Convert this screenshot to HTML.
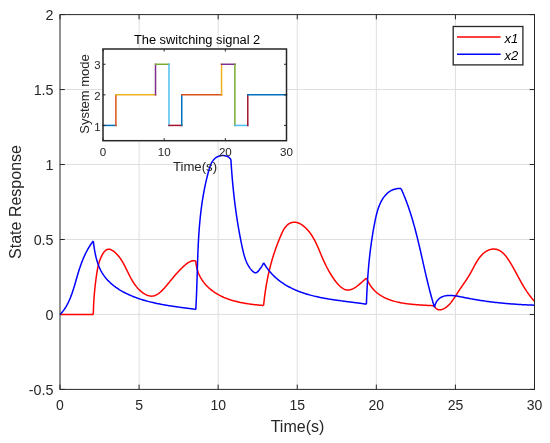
<!DOCTYPE html>
<html><head><meta charset="utf-8"><style>html,body{margin:0;padding:0;background:#fff;}svg{display:block;}</style></head><body>
<svg width="550" height="443" viewBox="0 0 550 443">
<rect x="0" y="0" width="550" height="443" fill="#ffffff"/>
<line x1="139.08" y1="14.60" x2="139.08" y2="389.40" stroke="#dfdfdf" stroke-width="1"/>
<line x1="218.17" y1="14.60" x2="218.17" y2="389.40" stroke="#dfdfdf" stroke-width="1"/>
<line x1="297.25" y1="14.60" x2="297.25" y2="389.40" stroke="#dfdfdf" stroke-width="1"/>
<line x1="376.33" y1="14.60" x2="376.33" y2="389.40" stroke="#dfdfdf" stroke-width="1"/>
<line x1="455.42" y1="14.60" x2="455.42" y2="389.40" stroke="#dfdfdf" stroke-width="1"/>
<line x1="60.00" y1="314.44" x2="534.50" y2="314.44" stroke="#dfdfdf" stroke-width="1"/>
<line x1="60.00" y1="239.48" x2="534.50" y2="239.48" stroke="#dfdfdf" stroke-width="1"/>
<line x1="60.00" y1="164.52" x2="534.50" y2="164.52" stroke="#dfdfdf" stroke-width="1"/>
<line x1="60.00" y1="89.56" x2="534.50" y2="89.56" stroke="#dfdfdf" stroke-width="1"/>
<line x1="60.00" y1="389.40" x2="60.00" y2="384.60" stroke="#262626" stroke-width="1"/>
<line x1="60.00" y1="14.60" x2="60.00" y2="19.40" stroke="#262626" stroke-width="1"/>
<line x1="139.08" y1="389.40" x2="139.08" y2="384.60" stroke="#262626" stroke-width="1"/>
<line x1="139.08" y1="14.60" x2="139.08" y2="19.40" stroke="#262626" stroke-width="1"/>
<line x1="218.17" y1="389.40" x2="218.17" y2="384.60" stroke="#262626" stroke-width="1"/>
<line x1="218.17" y1="14.60" x2="218.17" y2="19.40" stroke="#262626" stroke-width="1"/>
<line x1="297.25" y1="389.40" x2="297.25" y2="384.60" stroke="#262626" stroke-width="1"/>
<line x1="297.25" y1="14.60" x2="297.25" y2="19.40" stroke="#262626" stroke-width="1"/>
<line x1="376.33" y1="389.40" x2="376.33" y2="384.60" stroke="#262626" stroke-width="1"/>
<line x1="376.33" y1="14.60" x2="376.33" y2="19.40" stroke="#262626" stroke-width="1"/>
<line x1="455.42" y1="389.40" x2="455.42" y2="384.60" stroke="#262626" stroke-width="1"/>
<line x1="455.42" y1="14.60" x2="455.42" y2="19.40" stroke="#262626" stroke-width="1"/>
<line x1="534.50" y1="389.40" x2="534.50" y2="384.60" stroke="#262626" stroke-width="1"/>
<line x1="534.50" y1="14.60" x2="534.50" y2="19.40" stroke="#262626" stroke-width="1"/>
<line x1="60.00" y1="389.40" x2="64.80" y2="389.40" stroke="#262626" stroke-width="1"/>
<line x1="534.50" y1="389.40" x2="529.70" y2="389.40" stroke="#262626" stroke-width="1"/>
<line x1="60.00" y1="314.44" x2="64.80" y2="314.44" stroke="#262626" stroke-width="1"/>
<line x1="534.50" y1="314.44" x2="529.70" y2="314.44" stroke="#262626" stroke-width="1"/>
<line x1="60.00" y1="239.48" x2="64.80" y2="239.48" stroke="#262626" stroke-width="1"/>
<line x1="534.50" y1="239.48" x2="529.70" y2="239.48" stroke="#262626" stroke-width="1"/>
<line x1="60.00" y1="164.52" x2="64.80" y2="164.52" stroke="#262626" stroke-width="1"/>
<line x1="534.50" y1="164.52" x2="529.70" y2="164.52" stroke="#262626" stroke-width="1"/>
<line x1="60.00" y1="89.56" x2="64.80" y2="89.56" stroke="#262626" stroke-width="1"/>
<line x1="534.50" y1="89.56" x2="529.70" y2="89.56" stroke="#262626" stroke-width="1"/>
<line x1="60.00" y1="14.60" x2="64.80" y2="14.60" stroke="#262626" stroke-width="1"/>
<line x1="534.50" y1="14.60" x2="529.70" y2="14.60" stroke="#262626" stroke-width="1"/>
<path d="M60.00,314.45 L93.30,314.60 M93.30,314.60 L93.32,313.58 L93.34,312.56 L93.37,311.55 L93.40,310.53 L93.43,309.52 L93.47,308.51 L93.50,307.50 L93.55,306.49 L93.59,305.48 L93.64,304.47 L93.69,303.47 L93.75,302.46 L93.81,301.45 L93.87,300.45 L93.94,299.45 L94.00,298.45 L94.08,297.44 L94.15,296.44 L94.23,295.44 L94.31,294.44 L94.40,293.44 L94.48,292.45 L94.57,291.45 L94.67,290.45 L94.77,289.45 L94.87,288.46 L94.97,287.46 L95.08,286.46 L95.19,285.47 L95.30,284.47 L95.42,283.47 L95.54,282.48 L95.66,281.48 L95.79,280.49 L95.92,279.49 L96.05,278.49 L96.18,277.50 L96.32,276.50 L96.46,275.50 L96.61,274.51 L96.76,273.51 L96.91,272.51 L97.07,271.52 L97.24,270.52 L97.42,269.52 L97.61,268.52 L97.82,267.53 L98.03,266.53 L98.27,265.53 L98.52,264.54 L98.79,263.55 L99.08,262.55 L99.40,261.56 L99.73,260.57 L100.09,259.58 L100.48,258.59 L100.90,257.60 L101.35,256.61 L101.82,255.64 L102.33,254.69 L102.86,253.77 L103.43,252.90 L104.02,252.09 L104.63,251.36 L105.28,250.71 L105.95,250.16 L106.65,249.73 L107.38,249.41 L108.13,249.24 L108.91,249.21 L109.70,249.31 L110.51,249.53 L111.33,249.87 L112.15,250.30 L112.96,250.81 L113.78,251.39 L114.57,252.03 L115.35,252.72 L116.11,253.44 L116.84,254.18 L117.55,254.94 L118.23,255.73 L118.88,256.53 L119.52,257.35 L120.13,258.18 L120.72,259.03 L121.30,259.90 L121.86,260.77 L122.40,261.66 L122.92,262.55 L123.44,263.46 L123.94,264.37 L124.42,265.28 L124.90,266.20 L125.37,267.12 L125.83,268.04 L126.29,268.97 L126.74,269.89 L127.18,270.80 L127.63,271.72 L128.07,272.63 L128.51,273.53 L128.95,274.43 L129.40,275.33 L129.85,276.22 L130.31,277.11 L130.77,277.99 L131.25,278.86 L131.73,279.72 L132.23,280.58 L132.74,281.43 L133.26,282.28 L133.81,283.11 L134.37,283.94 L134.95,284.75 L135.55,285.56 L136.17,286.36 L136.82,287.14 L137.49,287.92 L138.19,288.68 L138.92,289.43 L139.67,290.17 L140.45,290.88 L141.24,291.56 L142.06,292.22 L142.89,292.84 L143.73,293.41 L144.59,293.95 L145.46,294.44 L146.34,294.87 L147.22,295.25 L148.11,295.57 L149.01,295.82 L149.90,296.00 L150.79,296.11 L151.67,296.14 L152.56,296.08 L153.43,295.94 L154.30,295.72 L155.15,295.42 L156.00,295.05 L156.84,294.61 L157.68,294.11 L158.50,293.56 L159.31,292.95 L160.12,292.29 L160.91,291.60 L161.70,290.87 L162.47,290.10 L163.23,289.31 L163.98,288.50 L164.73,287.68 L165.46,286.84 L166.17,286.00 L166.88,285.16 L167.58,284.32 L168.26,283.49 L168.93,282.68 L169.59,281.87 L170.24,281.08 L170.88,280.29 L171.52,279.52 L172.15,278.76 L172.78,278.00 L173.41,277.25 L174.03,276.51 L174.66,275.78 L175.28,275.05 L175.91,274.33 L176.54,273.61 L177.18,272.90 L177.82,272.19 L178.48,271.49 L179.14,270.78 L179.81,270.08 L180.49,269.39 L181.19,268.69 L181.90,267.99 L182.63,267.30 L183.37,266.60 L184.13,265.90 L184.91,265.21 L185.72,264.52 L186.54,263.85 L187.38,263.22 L188.24,262.64 L189.11,262.11 L190.01,261.65 L190.93,261.28 L191.87,260.99 L192.82,260.81 L193.80,260.74 L194.79,260.80 L195.80,261.00 M195.80,261.00 L195.87,262.09 L195.98,263.17 L196.11,264.23 L196.27,265.29 L196.45,266.32 L196.67,267.35 L196.91,268.36 L197.18,269.36 L197.47,270.34 L197.79,271.31 L198.13,272.27 L198.49,273.21 L198.88,274.14 L199.30,275.06 L199.73,275.96 L200.19,276.85 L200.67,277.72 L201.18,278.58 L201.70,279.42 L202.24,280.25 L202.80,281.07 L203.39,281.87 L203.99,282.65 L204.61,283.42 L205.25,284.18 L205.90,284.92 L206.58,285.65 L207.27,286.36 L207.97,287.06 L208.69,287.74 L209.43,288.40 L210.18,289.05 L210.95,289.69 L211.73,290.31 L212.52,290.91 L213.32,291.50 L214.14,292.07 L214.97,292.63 L215.81,293.17 L216.67,293.70 L217.53,294.21 L218.40,294.70 L219.28,295.18 L220.18,295.64 L221.08,296.09 L221.99,296.53 L222.91,296.95 L223.83,297.36 L224.77,297.75 L225.71,298.13 L226.66,298.50 L227.62,298.86 L228.58,299.20 L229.55,299.53 L230.52,299.85 L231.50,300.16 L232.49,300.45 L233.47,300.74 L234.47,301.01 L235.47,301.27 L236.47,301.53 L237.47,301.77 L238.48,302.00 L239.49,302.23 L240.50,302.44 L241.51,302.65 L242.53,302.85 L243.55,303.04 L244.56,303.22 L245.58,303.39 L246.60,303.56 L247.62,303.72 L248.64,303.87 L249.65,304.01 L250.67,304.15 L251.68,304.29 L252.69,304.41 L253.70,304.53 L254.71,304.65 L255.72,304.76 L256.72,304.87 L257.71,304.97 L258.71,305.07 L259.70,305.16 L260.68,305.25 L261.66,305.34 L262.63,305.42 L263.60,305.50 M263.60,305.50 L263.70,304.48 L263.81,303.46 L263.91,302.44 L264.03,301.43 L264.14,300.41 L264.26,299.40 L264.38,298.39 L264.50,297.39 L264.63,296.38 L264.76,295.38 L264.89,294.38 L265.03,293.39 L265.17,292.39 L265.31,291.39 L265.46,290.40 L265.61,289.41 L265.76,288.42 L265.92,287.44 L266.08,286.45 L266.25,285.47 L266.41,284.48 L266.59,283.50 L266.76,282.52 L266.94,281.55 L267.13,280.57 L267.32,279.59 L267.51,278.62 L267.70,277.65 L267.90,276.68 L268.11,275.71 L268.32,274.74 L268.53,273.77 L268.75,272.80 L268.97,271.83 L269.19,270.87 L269.42,269.90 L269.66,268.94 L269.89,267.98 L270.14,267.01 L270.38,266.05 L270.64,265.09 L270.89,264.13 L271.15,263.17 L271.42,262.21 L271.69,261.25 L271.97,260.29 L272.25,259.33 L272.53,258.38 L272.82,257.42 L273.11,256.46 L273.41,255.50 L273.72,254.54 L274.03,253.59 L274.34,252.63 L274.66,251.67 L274.99,250.71 L275.32,249.76 L275.65,248.80 L275.99,247.84 L276.34,246.88 L276.69,245.92 L277.05,244.96 L277.41,244.00 L277.78,243.04 L278.15,242.08 L278.53,241.12 L278.91,240.16 L279.30,239.20 L279.70,238.23 L280.10,237.27 L280.51,236.31 L280.92,235.34 L281.34,234.38 L281.77,233.41 L282.21,232.46 L282.67,231.52 L283.14,230.60 L283.64,229.70 L284.16,228.83 L284.71,227.99 L285.29,227.19 L285.91,226.43 L286.56,225.71 L287.25,225.05 L287.99,224.44 L288.77,223.89 L289.59,223.41 L290.45,222.99 L291.32,222.66 L292.22,222.40 L293.13,222.24 L294.04,222.17 L294.95,222.19 L295.86,222.29 L296.76,222.47 L297.66,222.73 L298.55,223.06 L299.43,223.45 L300.30,223.90 L301.16,224.41 L302.01,224.96 L302.84,225.56 L303.65,226.19 L304.45,226.86 L305.22,227.55 L305.97,228.27 L306.69,229.00 L307.40,229.74 L308.08,230.51 L308.74,231.29 L309.37,232.08 L309.99,232.88 L310.59,233.70 L311.17,234.53 L311.74,235.37 L312.28,236.22 L312.81,237.08 L313.33,237.96 L313.83,238.84 L314.32,239.72 L314.79,240.62 L315.26,241.52 L315.71,242.43 L316.15,243.34 L316.59,244.26 L317.01,245.19 L317.43,246.11 L317.84,247.04 L318.25,247.97 L318.65,248.91 L319.04,249.84 L319.43,250.77 L319.82,251.71 L320.21,252.64 L320.60,253.57 L320.99,254.50 L321.38,255.43 L321.77,256.35 L322.16,257.27 L322.55,258.18 L322.95,259.09 L323.35,260.00 L323.76,260.90 L324.17,261.80 L324.59,262.69 L325.01,263.58 L325.44,264.47 L325.87,265.36 L326.32,266.24 L326.77,267.13 L327.22,268.01 L327.69,268.88 L328.17,269.76 L328.65,270.63 L329.15,271.51 L329.65,272.38 L330.17,273.25 L330.69,274.12 L331.23,274.99 L331.79,275.85 L332.35,276.72 L332.93,277.59 L333.52,278.46 L334.12,279.33 L334.74,280.19 L335.38,281.05 L336.03,281.90 L336.69,282.73 L337.36,283.54 L338.05,284.32 L338.76,285.08 L339.48,285.80 L340.21,286.48 L340.95,287.11 L341.71,287.70 L342.48,288.23 L343.27,288.70 L344.06,289.11 L344.87,289.46 L345.70,289.73 L346.53,289.92 L347.38,290.03 L348.25,290.06 L349.12,289.99 L350.01,289.84 L350.91,289.59 L351.81,289.26 L352.72,288.86 L353.63,288.40 L354.55,287.87 L355.46,287.30 L356.36,286.68 L357.26,286.02 L358.15,285.33 L359.03,284.63 L359.89,283.91 L360.74,283.18 L361.57,282.45 L362.37,281.73 L363.15,281.03 L363.90,280.35 L364.63,279.70 L365.32,279.08 L365.98,278.52 L366.60,278.00 M366.60,278.00 L367.00,279.05 L367.43,280.07 L367.88,281.06 L368.35,282.03 L368.85,282.97 L369.36,283.88 L369.90,284.76 L370.46,285.62 L371.04,286.46 L371.63,287.27 L372.25,288.05 L372.89,288.81 L373.54,289.55 L374.22,290.26 L374.91,290.95 L375.62,291.61 L376.34,292.26 L377.08,292.88 L377.84,293.48 L378.61,294.06 L379.40,294.62 L380.20,295.16 L381.02,295.68 L381.85,296.18 L382.69,296.66 L383.55,297.13 L384.42,297.57 L385.30,298.00 L386.19,298.41 L387.09,298.80 L388.01,299.18 L388.93,299.54 L389.87,299.88 L390.81,300.21 L391.76,300.53 L392.73,300.83 L393.70,301.11 L394.67,301.38 L395.66,301.64 L396.65,301.89 L397.65,302.12 L398.65,302.35 L399.66,302.56 L400.68,302.76 L401.70,302.95 L402.72,303.12 L403.75,303.29 L404.78,303.45 L405.81,303.60 L406.85,303.74 L407.89,303.88 L408.93,304.00 L409.97,304.12 L411.01,304.23 L412.05,304.34 L413.10,304.43 L414.14,304.53 L415.18,304.61 L416.22,304.70 L417.26,304.77 L418.29,304.85 L419.32,304.92 L420.35,304.98 L421.38,305.05 L422.40,305.11 L423.42,305.17 L424.43,305.23 L425.44,305.28 L426.44,305.34 L427.44,305.39 L428.43,305.45 L429.41,305.50 L430.38,305.56 L431.35,305.62 L432.31,305.67 L433.26,305.74 L434.20,305.80 M434.20,305.80 L434.79,306.88 L435.45,307.78 L436.15,308.49 L436.89,309.04 L437.68,309.43 L438.49,309.67 L439.33,309.79 L440.18,309.78 L441.04,309.66 L441.91,309.45 L442.77,309.15 L443.62,308.77 L444.45,308.33 L445.26,307.84 L446.04,307.30 L446.81,306.71 L447.56,306.07 L448.29,305.40 L449.00,304.69 L449.69,303.95 L450.37,303.17 L451.04,302.37 L451.69,301.54 L452.33,300.69 L452.95,299.83 L453.57,298.94 L454.18,298.05 L454.78,297.15 L455.37,296.25 L455.95,295.34 L456.53,294.44 L457.11,293.54 L457.68,292.64 L458.25,291.76 L458.82,290.90 L459.39,290.04 L459.96,289.20 L460.52,288.37 L461.08,287.55 L461.64,286.73 L462.20,285.92 L462.76,285.12 L463.31,284.32 L463.86,283.52 L464.41,282.73 L464.95,281.94 L465.49,281.14 L466.03,280.34 L466.56,279.54 L467.09,278.73 L467.61,277.92 L468.13,277.10 L468.65,276.27 L469.16,275.43 L469.66,274.58 L470.17,273.72 L470.66,272.84 L471.15,271.95 L471.64,271.05 L472.13,270.13 L472.61,269.21 L473.10,268.29 L473.59,267.36 L474.08,266.43 L474.58,265.51 L475.09,264.58 L475.60,263.66 L476.13,262.75 L476.66,261.85 L477.21,260.95 L477.77,260.08 L478.35,259.21 L478.95,258.37 L479.56,257.54 L480.20,256.74 L480.86,255.96 L481.54,255.20 L482.24,254.48 L482.97,253.78 L483.73,253.12 L484.51,252.49 L485.33,251.90 L486.17,251.35 L487.03,250.85 L487.91,250.39 L488.81,250.00 L489.72,249.66 L490.65,249.39 L491.58,249.19 L492.51,249.06 L493.45,249.01 L494.39,249.04 L495.32,249.13 L496.23,249.30 L497.13,249.54 L498.00,249.85 L498.86,250.22 L499.68,250.65 L500.49,251.13 L501.28,251.67 L502.04,252.26 L502.79,252.89 L503.51,253.57 L504.22,254.29 L504.91,255.04 L505.58,255.83 L506.24,256.64 L506.88,257.49 L507.50,258.35 L508.12,259.23 L508.71,260.13 L509.30,261.03 L509.87,261.95 L510.43,262.87 L510.99,263.80 L511.53,264.72 L512.06,265.64 L512.58,266.55 L513.10,267.46 L513.61,268.37 L514.11,269.27 L514.60,270.17 L515.10,271.07 L515.58,271.96 L516.06,272.85 L516.54,273.73 L517.02,274.62 L517.49,275.49 L517.96,276.37 L518.43,277.24 L518.90,278.11 L519.37,278.98 L519.84,279.84 L520.32,280.70 L520.79,281.56 L521.27,282.41 L521.75,283.26 L522.24,284.11 L522.73,284.96 L523.22,285.80 L523.72,286.64 L524.23,287.48 L524.75,288.31 L525.27,289.14 L525.80,289.97 L526.34,290.79 L526.89,291.62 L527.46,292.44 L528.03,293.26 L528.61,294.07 L529.21,294.88 L529.82,295.69 L530.44,296.50 L531.08,297.31 L531.73,298.11 L532.40,298.91 L533.08,299.71 L533.78,300.51 L534.50,301.30" fill="none" stroke="#ff0000" stroke-width="1.5" stroke-linejoin="round"/>
<path d="M60.00,314.45 L60.71,313.72 L61.40,312.98 L62.06,312.22 L62.71,311.45 L63.32,310.66 L63.92,309.86 L64.50,309.04 L65.05,308.22 L65.59,307.38 L66.11,306.53 L66.61,305.67 L67.10,304.80 L67.56,303.92 L68.02,303.03 L68.46,302.13 L68.89,301.22 L69.30,300.31 L69.70,299.39 L70.10,298.46 L70.48,297.52 L70.85,296.58 L71.21,295.63 L71.56,294.68 L71.90,293.72 L72.24,292.76 L72.56,291.79 L72.88,290.82 L73.20,289.84 L73.51,288.87 L73.81,287.88 L74.11,286.90 L74.41,285.91 L74.70,284.92 L74.99,283.93 L75.28,282.94 L75.56,281.94 L75.85,280.95 L76.13,279.96 L76.42,278.96 L76.70,277.97 L76.99,276.97 L77.28,275.98 L77.57,274.99 L77.87,274.00 L78.16,273.01 L78.47,272.03 L78.77,271.04 L79.08,270.06 L79.40,269.08 L79.72,268.11 L80.04,267.14 L80.37,266.17 L80.71,265.20 L81.06,264.24 L81.41,263.28 L81.76,262.33 L82.13,261.37 L82.50,260.43 L82.88,259.49 L83.27,258.55 L83.67,257.61 L84.07,256.69 L84.49,255.76 L84.92,254.84 L85.35,253.93 L85.80,253.02 L86.25,252.12 L86.72,251.23 L87.20,250.34 L87.69,249.45 L88.19,248.58 L88.70,247.71 L89.23,246.84 L89.77,245.99 L90.32,245.14 L90.89,244.29 L91.47,243.46 L92.07,242.63 L92.68,241.81 L93.30,241.00 M93.30,241.00 L93.41,241.96 L93.53,242.93 L93.65,243.91 L93.77,244.89 L93.91,245.88 L94.05,246.88 L94.20,247.89 L94.36,248.89 L94.53,249.90 L94.70,250.92 L94.89,251.93 L95.08,252.95 L95.29,253.97 L95.50,254.99 L95.73,256.00 L95.97,257.01 L96.22,258.03 L96.49,259.03 L96.77,260.03 L97.06,261.03 L97.36,262.02 L97.68,263.01 L98.02,263.98 L98.37,264.95 L98.74,265.91 L99.12,266.86 L99.52,267.79 L99.94,268.72 L100.37,269.63 L100.82,270.53 L101.30,271.42 L101.79,272.29 L102.30,273.14 L102.83,273.98 L103.37,274.81 L103.94,275.62 L104.52,276.41 L105.12,277.19 L105.73,277.96 L106.36,278.71 L107.01,279.45 L107.67,280.18 L108.35,280.89 L109.04,281.59 L109.75,282.28 L110.47,282.95 L111.20,283.61 L111.94,284.25 L112.70,284.89 L113.47,285.51 L114.25,286.12 L115.05,286.71 L115.85,287.30 L116.66,287.87 L117.49,288.43 L118.32,288.98 L119.16,289.52 L120.02,290.04 L120.88,290.56 L121.74,291.06 L122.62,291.56 L123.50,292.04 L124.39,292.51 L125.29,292.97 L126.19,293.43 L127.10,293.87 L128.01,294.30 L128.92,294.72 L129.84,295.13 L130.77,295.54 L131.70,295.93 L132.63,296.32 L133.57,296.69 L134.51,297.06 L135.45,297.42 L136.40,297.77 L137.34,298.11 L138.30,298.44 L139.25,298.77 L140.21,299.09 L141.17,299.40 L142.14,299.70 L143.10,300.00 L144.07,300.29 L145.04,300.57 L146.02,300.84 L146.99,301.11 L147.97,301.37 L148.95,301.63 L149.93,301.87 L150.92,302.12 L151.91,302.35 L152.89,302.58 L153.88,302.81 L154.88,303.03 L155.87,303.25 L156.86,303.46 L157.86,303.66 L158.86,303.86 L159.85,304.06 L160.85,304.25 L161.85,304.43 L162.85,304.62 L163.86,304.80 L164.86,304.97 L165.86,305.14 L166.87,305.31 L167.87,305.48 L168.87,305.64 L169.88,305.80 L170.88,305.95 L171.89,306.10 L172.89,306.26 L173.90,306.40 L174.90,306.55 L175.91,306.69 L176.91,306.84 L177.92,306.98 L178.92,307.12 L179.92,307.25 L180.92,307.39 L181.92,307.53 L182.92,307.66 L183.92,307.79 L184.92,307.93 L185.92,308.06 L186.91,308.19 L187.91,308.32 L188.90,308.46 L189.89,308.59 L190.88,308.72 L191.87,308.86 L192.85,308.99 L193.84,309.13 L194.82,309.26 L195.80,309.40 M195.80,309.40 L195.86,308.38 L195.92,307.36 L195.97,306.34 L196.02,305.33 L196.08,304.31 L196.13,303.29 L196.18,302.27 L196.23,301.26 L196.27,300.24 L196.32,299.22 L196.36,298.21 L196.41,297.19 L196.45,296.18 L196.49,295.16 L196.53,294.15 L196.57,293.14 L196.61,292.12 L196.65,291.11 L196.68,290.10 L196.72,289.08 L196.75,288.07 L196.79,287.06 L196.82,286.05 L196.86,285.04 L196.89,284.03 L196.92,283.02 L196.95,282.01 L196.98,281.00 L197.02,279.99 L197.05,278.98 L197.08,277.97 L197.11,276.96 L197.14,275.95 L197.17,274.94 L197.20,273.93 L197.23,272.92 L197.26,271.92 L197.29,270.91 L197.32,269.90 L197.35,268.89 L197.38,267.89 L197.41,266.88 L197.44,265.87 L197.47,264.87 L197.50,263.86 L197.54,262.86 L197.57,261.85 L197.60,260.84 L197.64,259.84 L197.67,258.83 L197.71,257.83 L197.74,256.82 L197.78,255.82 L197.82,254.81 L197.86,253.81 L197.90,252.81 L197.94,251.80 L197.98,250.80 L198.02,249.79 L198.07,248.79 L198.11,247.79 L198.16,246.78 L198.20,245.78 L198.25,244.78 L198.30,243.77 L198.35,242.77 L198.41,241.77 L198.46,240.76 L198.52,239.76 L198.57,238.76 L198.63,237.76 L198.69,236.75 L198.76,235.75 L198.82,234.75 L198.89,233.75 L198.95,232.74 L199.02,231.74 L199.10,230.74 L199.17,229.74 L199.25,228.73 L199.32,227.73 L199.40,226.73 L199.49,225.73 L199.57,224.73 L199.66,223.72 L199.75,222.72 L199.84,221.72 L199.93,220.72 L200.03,219.71 L200.13,218.71 L200.23,217.71 L200.33,216.71 L200.44,215.71 L200.55,214.70 L200.66,213.70 L200.78,212.70 L200.90,211.70 L201.02,210.69 L201.14,209.69 L201.27,208.69 L201.40,207.69 L201.53,206.68 L201.67,205.68 L201.80,204.68 L201.95,203.67 L202.09,202.67 L202.24,201.67 L202.39,200.66 L202.55,199.66 L202.71,198.66 L202.87,197.65 L203.04,196.65 L203.21,195.65 L203.38,194.64 L203.56,193.64 L203.74,192.63 L203.93,191.63 L204.11,190.62 L204.31,189.62 L204.50,188.61 L204.70,187.61 L204.91,186.60 L205.12,185.60 L205.33,184.59 L205.55,183.59 L205.77,182.58 L205.99,181.58 L206.22,180.57 L206.46,179.56 L206.70,178.56 L206.94,177.55 L207.19,176.54 L207.44,175.53 L207.70,174.53 L207.96,173.52 L208.22,172.51 L208.49,171.50 L208.77,170.50 L209.06,169.50 L209.36,168.51 L209.68,167.54 L210.01,166.58 L210.37,165.64 L210.74,164.72 L211.14,163.82 L211.57,162.96 L212.02,162.12 L212.51,161.33 L213.04,160.56 L213.59,159.84 L214.19,159.17 L214.83,158.54 L215.52,157.96 L216.25,157.43 L217.03,156.96 L217.86,156.55 L218.75,156.21 L219.69,155.92 L220.68,155.71 L221.71,155.58 L222.76,155.52 L223.82,155.56 L224.87,155.68 L225.90,155.91 L226.90,156.23 L227.85,156.67 L228.74,157.21 L229.56,157.88 L230.28,158.68 L230.90,159.60 M230.90,159.60 L230.96,160.62 L231.03,161.64 L231.09,162.66 L231.16,163.67 L231.22,164.69 L231.29,165.70 L231.36,166.72 L231.43,167.73 L231.50,168.75 L231.58,169.76 L231.65,170.77 L231.73,171.78 L231.81,172.79 L231.89,173.80 L231.97,174.81 L232.05,175.82 L232.13,176.83 L232.21,177.83 L232.30,178.84 L232.39,179.85 L232.48,180.85 L232.57,181.86 L232.66,182.86 L232.75,183.87 L232.84,184.87 L232.94,185.87 L233.04,186.88 L233.14,187.88 L233.24,188.88 L233.34,189.88 L233.44,190.89 L233.55,191.89 L233.65,192.89 L233.76,193.89 L233.87,194.89 L233.98,195.89 L234.10,196.89 L234.21,197.89 L234.33,198.89 L234.45,199.89 L234.57,200.88 L234.69,201.88 L234.81,202.88 L234.94,203.88 L235.06,204.88 L235.19,205.88 L235.32,206.87 L235.46,207.87 L235.59,208.87 L235.72,209.87 L235.86,210.87 L236.00,211.86 L236.14,212.86 L236.29,213.86 L236.43,214.86 L236.58,215.86 L236.73,216.85 L236.88,217.85 L237.03,218.85 L237.18,219.85 L237.34,220.85 L237.50,221.85 L237.66,222.84 L237.82,223.84 L237.99,224.84 L238.15,225.84 L238.32,226.84 L238.49,227.84 L238.66,228.84 L238.84,229.84 L239.01,230.84 L239.19,231.84 L239.37,232.85 L239.56,233.85 L239.74,234.85 L239.93,235.85 L240.12,236.85 L240.31,237.86 L240.50,238.86 L240.70,239.87 L240.90,240.87 L241.10,241.88 L241.30,242.88 L241.50,243.89 L241.71,244.90 L241.92,245.90 L242.13,246.91 L242.35,247.92 L242.57,248.93 L242.79,249.93 L243.02,250.93 L243.26,251.93 L243.51,252.93 L243.77,253.91 L244.04,254.90 L244.32,255.87 L244.61,256.84 L244.92,257.80 L245.25,258.75 L245.59,259.69 L245.95,260.62 L246.33,261.54 L246.73,262.45 L247.15,263.34 L247.59,264.22 L248.05,265.08 L248.54,265.92 L249.06,266.75 L249.60,267.57 L250.17,268.36 L250.77,269.13 L251.40,269.89 L252.06,270.62 L252.75,271.33 L253.48,271.97 L254.25,272.48 L255.05,272.77 L255.91,272.78 L256.81,272.43 L257.75,271.67 L258.70,270.63 L259.56,269.52 L260.29,268.55 L260.88,267.74 L261.37,267.02 L261.81,266.33 L262.22,265.63 L262.65,264.85 L263.13,263.92 L263.70,262.80 M263.70,262.80 L264.22,263.72 L264.76,264.62 L265.31,265.50 L265.88,266.37 L266.46,267.23 L267.05,268.07 L267.65,268.90 L268.26,269.71 L268.89,270.51 L269.53,271.30 L270.18,272.07 L270.84,272.82 L271.51,273.57 L272.20,274.30 L272.89,275.01 L273.60,275.72 L274.31,276.41 L275.04,277.09 L275.78,277.75 L276.52,278.40 L277.28,279.04 L278.04,279.67 L278.82,280.29 L279.60,280.89 L280.40,281.48 L281.20,282.06 L282.01,282.63 L282.83,283.18 L283.65,283.73 L284.49,284.26 L285.33,284.78 L286.18,285.29 L287.04,285.79 L287.90,286.28 L288.77,286.76 L289.65,287.23 L290.53,287.68 L291.43,288.13 L292.32,288.57 L293.23,288.99 L294.13,289.41 L295.05,289.82 L295.97,290.22 L296.89,290.60 L297.83,290.98 L298.76,291.35 L299.70,291.71 L300.64,292.06 L301.59,292.41 L302.55,292.74 L303.50,293.07 L304.46,293.38 L305.43,293.69 L306.39,293.99 L307.36,294.28 L308.34,294.57 L309.32,294.85 L310.30,295.12 L311.28,295.38 L312.27,295.64 L313.25,295.89 L314.25,296.13 L315.24,296.37 L316.24,296.60 L317.24,296.82 L318.24,297.04 L319.24,297.26 L320.24,297.46 L321.25,297.67 L322.26,297.86 L323.27,298.06 L324.28,298.24 L325.29,298.43 L326.30,298.61 L327.32,298.78 L328.33,298.95 L329.35,299.12 L330.36,299.28 L331.38,299.44 L332.40,299.60 L333.42,299.75 L334.44,299.90 L335.45,300.04 L336.47,300.19 L337.49,300.33 L338.51,300.47 L339.52,300.61 L340.54,300.74 L341.56,300.88 L342.57,301.01 L343.59,301.14 L344.60,301.27 L345.61,301.40 L346.62,301.53 L347.63,301.66 L348.64,301.78 L349.65,301.91 L350.65,302.04 L351.66,302.17 L352.66,302.29 L353.66,302.42 L354.65,302.55 L355.65,302.68 L356.64,302.81 L357.63,302.94 L358.62,303.07 L359.60,303.20 L360.58,303.34 L361.56,303.48 L362.53,303.62 L363.51,303.76 L364.47,303.90 L365.44,304.05 L366.40,304.20 M366.40,304.20 L366.44,303.16 L366.48,302.11 L366.52,301.08 L366.56,300.04 L366.60,299.00 L366.64,297.97 L366.69,296.94 L366.73,295.91 L366.78,294.89 L366.83,293.86 L366.87,292.84 L366.92,291.82 L366.97,290.80 L367.03,289.78 L367.08,288.77 L367.13,287.75 L367.19,286.74 L367.24,285.73 L367.30,284.72 L367.36,283.71 L367.42,282.71 L367.48,281.70 L367.55,280.70 L367.61,279.69 L367.68,278.69 L367.75,277.69 L367.82,276.69 L367.89,275.69 L367.96,274.69 L368.03,273.70 L368.11,272.70 L368.19,271.70 L368.27,270.71 L368.35,269.71 L368.43,268.72 L368.52,267.72 L368.60,266.73 L368.69,265.74 L368.78,264.75 L368.88,263.75 L368.97,262.76 L369.07,261.77 L369.17,260.78 L369.27,259.78 L369.37,258.79 L369.48,257.80 L369.58,256.80 L369.69,255.81 L369.80,254.82 L369.92,253.82 L370.03,252.83 L370.15,251.84 L370.27,250.84 L370.40,249.84 L370.52,248.85 L370.65,247.85 L370.78,246.85 L370.92,245.85 L371.05,244.85 L371.19,243.85 L371.33,242.85 L371.47,241.85 L371.62,240.84 L371.77,239.84 L371.92,238.83 L372.07,237.82 L372.23,236.82 L372.39,235.81 L372.55,234.79 L372.72,233.78 L372.89,232.76 L373.06,231.75 L373.23,230.73 L373.41,229.71 L373.59,228.69 L373.78,227.66 L373.96,226.64 L374.15,225.61 L374.35,224.58 L374.54,223.55 L374.74,222.51 L374.94,221.48 L375.15,220.44 L375.37,219.41 L375.59,218.38 L375.82,217.34 L376.05,216.32 L376.29,215.29 L376.55,214.27 L376.81,213.26 L377.08,212.25 L377.37,211.25 L377.66,210.26 L377.97,209.28 L378.30,208.30 L378.63,207.34 L378.99,206.39 L379.35,205.45 L379.74,204.52 L380.14,203.61 L380.55,202.71 L380.99,201.82 L381.45,200.96 L381.92,200.10 L382.42,199.27 L382.94,198.46 L383.47,197.66 L384.04,196.89 L384.62,196.13 L385.23,195.40 L385.86,194.70 L386.52,194.02 L387.21,193.37 L387.92,192.75 L388.65,192.17 L389.42,191.62 L390.21,191.11 L391.04,190.64 L391.89,190.20 L392.77,189.82 L393.69,189.47 L394.63,189.18 L395.61,188.93 L396.62,188.73 L397.66,188.59 L398.74,188.50 L399.85,188.47 L401.00,188.50 M401.00,188.50 L401.42,189.42 L401.84,190.35 L402.25,191.27 L402.65,192.20 L403.05,193.13 L403.44,194.06 L403.83,195.00 L404.22,195.93 L404.60,196.87 L404.97,197.81 L405.34,198.75 L405.71,199.69 L406.07,200.63 L406.43,201.58 L406.78,202.52 L407.13,203.47 L407.48,204.42 L407.82,205.37 L408.15,206.32 L408.49,207.28 L408.82,208.23 L409.14,209.19 L409.46,210.15 L409.78,211.10 L410.09,212.06 L410.40,213.03 L410.71,213.99 L411.01,214.95 L411.32,215.92 L411.61,216.89 L411.91,217.85 L412.20,218.82 L412.48,219.79 L412.77,220.76 L413.05,221.73 L413.33,222.71 L413.61,223.68 L413.88,224.66 L414.15,225.63 L414.42,226.61 L414.69,227.59 L414.95,228.56 L415.21,229.54 L415.47,230.52 L415.73,231.50 L415.98,232.49 L416.23,233.47 L416.49,234.45 L416.73,235.43 L416.98,236.42 L417.23,237.40 L417.47,238.39 L417.71,239.38 L417.95,240.36 L418.19,241.35 L418.43,242.34 L418.66,243.33 L418.90,244.31 L419.13,245.30 L419.37,246.29 L419.60,247.28 L419.83,248.27 L420.06,249.26 L420.29,250.25 L420.51,251.25 L420.74,252.24 L420.97,253.23 L421.19,254.22 L421.42,255.21 L421.64,256.21 L421.87,257.20 L422.09,258.19 L422.32,259.18 L422.54,260.18 L422.76,261.17 L422.99,262.16 L423.21,263.15 L423.44,264.15 L423.66,265.14 L423.89,266.13 L424.11,267.12 L424.34,268.12 L424.56,269.11 L424.79,270.10 L425.01,271.09 L425.24,272.08 L425.47,273.07 L425.70,274.07 L425.93,275.06 L426.16,276.05 L426.39,277.04 L426.63,278.03 L426.86,279.01 L427.10,280.00 L427.34,280.99 L427.57,281.98 L427.81,282.97 L428.06,283.95 L428.30,284.94 L428.54,285.92 L428.79,286.91 L429.04,287.89 L429.29,288.88 L429.54,289.86 L429.80,290.84 L430.05,291.82 L430.31,292.80 L430.57,293.78 L430.84,294.76 L431.10,295.74 L431.37,296.72 L431.64,297.69 L431.91,298.67 L432.19,299.64 L432.47,300.62 L432.75,301.59 L433.03,302.56 L433.32,303.53 L433.61,304.50 L433.90,305.47 L434.20,306.43 L434.50,307.40 M434.50,307.40 L434.76,306.17 L435.07,305.01 L435.45,303.94 L435.88,302.94 L436.36,302.01 L436.89,301.16 L437.47,300.38 L438.09,299.66 L438.75,299.01 L439.45,298.43 L440.19,297.90 L440.96,297.43 L441.76,297.02 L442.59,296.66 L443.44,296.35 L444.31,296.09 L445.21,295.88 L446.12,295.71 L447.04,295.59 L447.98,295.51 L448.93,295.46 L449.90,295.45 L450.88,295.46 L451.86,295.51 L452.86,295.59 L453.87,295.69 L454.88,295.81 L455.90,295.95 L456.93,296.11 L457.96,296.29 L458.99,296.47 L460.03,296.67 L461.06,296.87 L462.10,297.08 L463.14,297.29 L464.17,297.50 L465.21,297.70 L466.24,297.91 L467.27,298.11 L468.29,298.30 L469.31,298.49 L470.33,298.68 L471.35,298.87 L472.37,299.05 L473.38,299.23 L474.40,299.40 L475.41,299.58 L476.41,299.75 L477.42,299.91 L478.42,300.07 L479.43,300.23 L480.43,300.39 L481.43,300.54 L482.43,300.69 L483.42,300.84 L484.42,300.99 L485.41,301.13 L486.41,301.27 L487.40,301.40 L488.39,301.54 L489.38,301.67 L490.37,301.79 L491.36,301.92 L492.35,302.04 L493.34,302.16 L494.33,302.28 L495.32,302.39 L496.31,302.50 L497.29,302.61 L498.28,302.72 L499.27,302.82 L500.26,302.93 L501.24,303.03 L502.23,303.12 L503.22,303.22 L504.21,303.31 L505.20,303.40 L506.19,303.49 L507.18,303.58 L508.17,303.66 L509.16,303.74 L510.16,303.82 L511.15,303.90 L512.15,303.98 L513.14,304.05 L514.14,304.12 L515.14,304.19 L516.14,304.26 L517.15,304.33 L518.15,304.39 L519.15,304.45 L520.16,304.51 L521.17,304.57 L522.18,304.63 L523.20,304.69 L524.21,304.74 L525.23,304.79 L526.25,304.84 L527.27,304.89 L528.30,304.94 L529.32,304.99 L530.35,305.03 L531.39,305.08 L532.42,305.12 L533.46,305.16 L534.50,305.20" fill="none" stroke="#0000ff" stroke-width="1.5" stroke-linejoin="round"/>
<rect x="60.00" y="14.60" width="474.50" height="374.80" fill="none" stroke="#262626" stroke-width="1"/>
<text x="60.00" y="410.1" font-family="Liberation Sans, Arial, sans-serif" font-size="14" fill="#262626" text-anchor="middle">0</text>
<text x="139.08" y="410.1" font-family="Liberation Sans, Arial, sans-serif" font-size="14" fill="#262626" text-anchor="middle">5</text>
<text x="218.17" y="410.1" font-family="Liberation Sans, Arial, sans-serif" font-size="14" fill="#262626" text-anchor="middle">10</text>
<text x="297.25" y="410.1" font-family="Liberation Sans, Arial, sans-serif" font-size="14" fill="#262626" text-anchor="middle">15</text>
<text x="376.33" y="410.1" font-family="Liberation Sans, Arial, sans-serif" font-size="14" fill="#262626" text-anchor="middle">20</text>
<text x="455.42" y="410.1" font-family="Liberation Sans, Arial, sans-serif" font-size="14" fill="#262626" text-anchor="middle">25</text>
<text x="534.50" y="410.1" font-family="Liberation Sans, Arial, sans-serif" font-size="14" fill="#262626" text-anchor="middle">30</text>
<text x="53.50" y="394.90" font-family="Liberation Sans, Arial, sans-serif" font-size="14.3" fill="#262626" text-anchor="end">-0.5</text>
<text x="53.50" y="319.94" font-family="Liberation Sans, Arial, sans-serif" font-size="14.3" fill="#262626" text-anchor="end">0</text>
<text x="53.50" y="244.98" font-family="Liberation Sans, Arial, sans-serif" font-size="14.3" fill="#262626" text-anchor="end">0.5</text>
<text x="53.50" y="170.02" font-family="Liberation Sans, Arial, sans-serif" font-size="14.3" fill="#262626" text-anchor="end">1</text>
<text x="53.50" y="95.06" font-family="Liberation Sans, Arial, sans-serif" font-size="14.3" fill="#262626" text-anchor="end">1.5</text>
<text x="53.50" y="20.10" font-family="Liberation Sans, Arial, sans-serif" font-size="14.3" fill="#262626" text-anchor="end">2</text>
<text x="297.5" y="432" font-family="Liberation Sans, Arial, sans-serif" font-size="16" fill="#262626" text-anchor="middle">Time(s)</text>
<text transform="translate(20.8,202) rotate(-90)" font-family="Liberation Sans, Arial, sans-serif" font-size="16" fill="#262626" text-anchor="middle">State Response</text>
<rect x="103.0" y="49.0" width="183.5" height="91.69999999999999" fill="#ffffff"/>
<line x1="103.00" y1="125.42" x2="115.88" y2="125.42" stroke="#0072bd" stroke-width="1.5" stroke-linecap="square"/>
<line x1="115.88" y1="125.42" x2="115.88" y2="94.85" stroke="#d95319" stroke-width="1.5" stroke-linecap="square"/>
<line x1="115.88" y1="94.85" x2="155.52" y2="94.85" stroke="#edb120" stroke-width="1.5" stroke-linecap="square"/>
<line x1="155.52" y1="94.85" x2="155.52" y2="64.28" stroke="#7e2f8e" stroke-width="1.5" stroke-linecap="square"/>
<line x1="155.52" y1="64.28" x2="169.00" y2="64.28" stroke="#77ac30" stroke-width="1.5" stroke-linecap="square"/>
<line x1="169.00" y1="64.28" x2="169.00" y2="125.42" stroke="#4dbeee" stroke-width="1.5" stroke-linecap="square"/>
<line x1="169.00" y1="125.42" x2="181.75" y2="125.42" stroke="#a2142f" stroke-width="1.5" stroke-linecap="square"/>
<line x1="181.75" y1="125.42" x2="181.75" y2="94.85" stroke="#0072bd" stroke-width="1.5" stroke-linecap="square"/>
<line x1="181.75" y1="94.85" x2="221.54" y2="94.85" stroke="#d95319" stroke-width="1.5" stroke-linecap="square"/>
<line x1="221.54" y1="94.85" x2="221.54" y2="64.28" stroke="#edb120" stroke-width="1.5" stroke-linecap="square"/>
<line x1="221.54" y1="64.28" x2="234.88" y2="64.28" stroke="#7e2f8e" stroke-width="1.5" stroke-linecap="square"/>
<line x1="234.88" y1="64.28" x2="234.88" y2="125.42" stroke="#77ac30" stroke-width="1.5" stroke-linecap="square"/>
<line x1="234.88" y1="125.42" x2="247.78" y2="125.42" stroke="#4dbeee" stroke-width="1.5" stroke-linecap="square"/>
<line x1="247.78" y1="125.42" x2="247.78" y2="94.85" stroke="#a2142f" stroke-width="1.5" stroke-linecap="square"/>
<line x1="247.78" y1="94.85" x2="286.50" y2="94.85" stroke="#0072bd" stroke-width="1.5" stroke-linecap="square"/>
<line x1="103.00" y1="140.70" x2="103.00" y2="138.20" stroke="#262626" stroke-width="1"/>
<line x1="103.00" y1="49.00" x2="103.00" y2="51.50" stroke="#262626" stroke-width="1"/>
<line x1="164.17" y1="140.70" x2="164.17" y2="138.20" stroke="#262626" stroke-width="1"/>
<line x1="164.17" y1="49.00" x2="164.17" y2="51.50" stroke="#262626" stroke-width="1"/>
<line x1="225.33" y1="140.70" x2="225.33" y2="138.20" stroke="#262626" stroke-width="1"/>
<line x1="225.33" y1="49.00" x2="225.33" y2="51.50" stroke="#262626" stroke-width="1"/>
<line x1="286.50" y1="140.70" x2="286.50" y2="138.20" stroke="#262626" stroke-width="1"/>
<line x1="286.50" y1="49.00" x2="286.50" y2="51.50" stroke="#262626" stroke-width="1"/>
<line x1="103.00" y1="125.42" x2="105.50" y2="125.42" stroke="#262626" stroke-width="1"/>
<line x1="286.50" y1="125.42" x2="284.00" y2="125.42" stroke="#262626" stroke-width="1"/>
<line x1="103.00" y1="94.85" x2="105.50" y2="94.85" stroke="#262626" stroke-width="1"/>
<line x1="286.50" y1="94.85" x2="284.00" y2="94.85" stroke="#262626" stroke-width="1"/>
<line x1="103.00" y1="64.28" x2="105.50" y2="64.28" stroke="#262626" stroke-width="1"/>
<line x1="286.50" y1="64.28" x2="284.00" y2="64.28" stroke="#262626" stroke-width="1"/>
<rect x="103.0" y="49.0" width="183.5" height="91.69999999999999" fill="none" stroke="#262626" stroke-width="1.5"/>
<text x="103.00" y="155.7" font-family="Liberation Sans, Arial, sans-serif" font-size="11.6" fill="#262626" text-anchor="middle">0</text>
<text x="164.17" y="155.7" font-family="Liberation Sans, Arial, sans-serif" font-size="11.6" fill="#262626" text-anchor="middle">10</text>
<text x="225.33" y="155.7" font-family="Liberation Sans, Arial, sans-serif" font-size="11.6" fill="#262626" text-anchor="middle">20</text>
<text x="286.50" y="155.7" font-family="Liberation Sans, Arial, sans-serif" font-size="11.6" fill="#262626" text-anchor="middle">30</text>
<text x="100.50" y="130.62" font-family="Liberation Sans, Arial, sans-serif" font-size="11.4" fill="#262626" text-anchor="end">1</text>
<text x="100.50" y="100.05" font-family="Liberation Sans, Arial, sans-serif" font-size="11.4" fill="#262626" text-anchor="end">2</text>
<text x="100.50" y="69.48" font-family="Liberation Sans, Arial, sans-serif" font-size="11.4" fill="#262626" text-anchor="end">3</text>
<text x="195" y="171.2" font-family="Liberation Sans, Arial, sans-serif" font-size="13.2" fill="#262626" text-anchor="middle">Time(s)</text>
<text transform="translate(89.1,94) rotate(-90)" font-family="Liberation Sans, Arial, sans-serif" font-size="13" fill="#262626" text-anchor="middle">System mode</text>
<text x="197.1" y="43.8" font-family="Liberation Sans, Arial, sans-serif" font-size="12.85" fill="#000000" text-anchor="middle">The switching signal 2</text>
<rect x="453.2" y="26.5" width="69.7" height="38.4" fill="#ffffff" stroke="#262626" stroke-width="1.3"/>
<line x1="457" y1="37.1" x2="500.6" y2="37.1" stroke="#ff0000" stroke-width="1.5"/>
<line x1="457" y1="54.3" x2="500.6" y2="54.3" stroke="#0000ff" stroke-width="1.5"/>
<text x="504.6" y="43.2" font-family="Liberation Sans, Arial, sans-serif" font-size="13" font-style="italic" fill="#000000">x1</text>
<text x="504.6" y="59.6" font-family="Liberation Sans, Arial, sans-serif" font-size="13" font-style="italic" fill="#000000">x2</text>
</svg>
</body></html>
